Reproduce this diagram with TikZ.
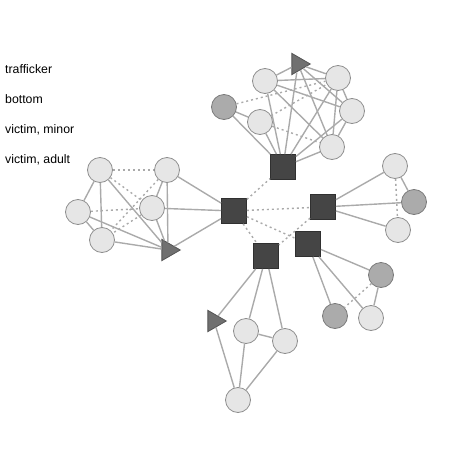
\documentclass[tikz,border=0pt]{standalone}
\usepackage{fontspec}
\setmainfont{Liberation Sans}
\usetikzlibrary{shapes.geometric}
\definecolor{sqfill}{HTML}{454545}
\definecolor{sqdraw}{HTML}{303030}
\definecolor{lcfill}{HTML}{E6E6E6}
\definecolor{lcdraw}{HTML}{8E8E8E}
\definecolor{dcfill}{HTML}{ABABAB}
\definecolor{dcdraw}{HTML}{7A7A7A}
\definecolor{trfill}{HTML}{707070}
\definecolor{trdraw}{HTML}{555555}
\definecolor{edgecol}{HTML}{AAAAAA}
\begin{document}
\begin{tikzpicture}[x=1pt,y=-1pt,
  sq/.style={rectangle,draw=sqdraw,fill=sqfill,minimum size=25pt,inner sep=0pt,line width=0.8pt},
  lc/.style={circle,draw=lcdraw,fill=lcfill,minimum size=25pt,inner sep=0pt,line width=0.8pt},
  dc/.style={circle,draw=dcdraw,fill=dcfill,minimum size=25pt,inner sep=0pt,line width=0.8pt},
  tri/.style={regular polygon,regular polygon sides=3,rotate=-90,draw=trdraw,fill=trfill,minimum size=24.5pt,inner sep=0pt,line width=0.8pt},
  edge/.style={draw=edgecol,line width=1.4pt},
  dot/.style={draw=edgecol,line width=1.4pt,dash pattern=on 2pt off 3pt},
  lab/.style={anchor=base west,inner sep=0pt,font=\fontsize{12.3}{14}\selectfont}]
\useasboundingbox (0,0) rectangle (474,474);
% legend
\node[lab] (lg1) at (5,73) {trafficker};
\node[lab] (lg2) at (5,103) {bottom};
\node[lab] (lg3) at (5,133) {victim, minor};
\node[lab] (lg4) at (5,163) {victim, adult};
% squares
\node[sq] (S1) at (283,167) {};
\node[sq] (S2) at (234,211) {};
\node[sq] (S3) at (323,207) {};
\node[sq] (S4) at (308,244) {};
\node[sq] (S5) at (266,256) {};
% top cluster
\node[tri] (T1) at (298,64) {};
\node[lc] (A) at (265,81) {};
\node[lc] (B) at (338,78) {};
\node[dc] (C) at (224,107) {};
\node[lc] (D) at (260,122) {};
\node[lc] (E) at (352,111) {};
\node[lc] (F) at (332,147) {};
% left cluster
\node[lc] (L1) at (100,170) {};
\node[lc] (L2) at (167,170) {};
\node[lc] (L3) at (78,212) {};
\node[lc] (L4) at (152,208) {};
\node[lc] (L5) at (102,240) {};
\node[tri] (T2) at (168,250) {};
% right cluster
\node[lc] (R1) at (395,166) {};
\node[dc] (R2) at (414,202) {};
\node[lc] (R3) at (398,230) {};
% S4 cluster
\node[dc] (Q1) at (381,275) {};
\node[dc] (Q2) at (335,316) {};
\node[lc] (Q3) at (371,318) {};
% S5 cluster
\node[tri] (T3) at (214,321) {};
\node[lc] (P1) at (246,331) {};
\node[lc] (P2) at (285,341) {};
\node[lc] (P3) at (238,400) {};
% square links
\draw[dot] (S2) -- (S1);
\draw[dot] (S2) -- (S3);
\draw[dot] (S2) -- (S4);
\draw[dot] (S2) -- (S5);
\draw[dot] (S3) -- (S5);
% top cluster edges
\foreach \a/\b in {A/T1,T1/B,A/B,A/E,A/F,A/S1,T1/S1,T1/F,T1/E,B/S1,B/E,B/F,E/F,E/S1,F/S1,C/D,C/S1,D/S1}
  \draw[edge] (\a) -- (\b);
\foreach \a/\b in {C/B,D/B,D/F}
  \draw[dot] (\a) -- (\b);
% left cluster edges
\foreach \a/\b in {L1/L3,L1/L5,L1/T2,L2/L4,L2/T2,L2/S2,L3/T2,L3/L5,L4/T2,L4/S2,L5/T2,T2/S2}
  \draw[edge] (\a) -- (\b);
\foreach \a/\b in {L1/L2,L1/L4,L2/L5,L4/L5,L3/L4}
  \draw[dot] (\a) -- (\b);
% right cluster edges
\foreach \a/\b in {S3/R1,S3/R2,S3/R3,R1/R2}
  \draw[edge] (\a) -- (\b);
\draw[dot] (R1) -- (R3);
% S4 cluster edges
\foreach \a/\b in {S4/Q1,S4/Q2,S4/Q3,Q1/Q3}
  \draw[edge] (\a) -- (\b);
\draw[dot] (Q1) -- (Q2);
% S5 cluster edges
\foreach \a/\b in {S5/T3,S5/P1,S5/P2,P1/P2,T3/P3,P1/P3,P2/P3}
  \draw[edge] (\a) -- (\b);
\end{tikzpicture}
\end{document}
